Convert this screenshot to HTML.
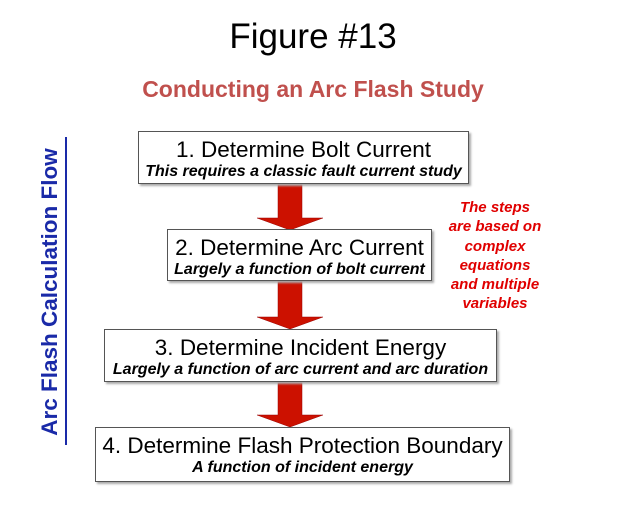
<!DOCTYPE html>
<html><head><style>
body{margin:0;width:626px;height:526px;background:#fff;position:relative;font-family:"Liberation Sans",Arial,sans-serif;overflow:hidden}
.a{position:absolute}
.box{position:absolute;border:1px solid #555;box-shadow:2px 2px 2px #aaa;background:#fff;text-align:center;box-sizing:border-box;white-space:nowrap}
.t{font-size:22.5px;line-height:24px;margin-top:6px;color:#000}
.s{font-size:16px;font-weight:bold;font-style:italic;line-height:20px}
</style></head><body>
<div class="a" style="left:0;width:626px;top:17px;text-align:center;font-size:35px">Figure #13</div>
<div class="a" style="left:0;width:626px;top:76px;text-align:center;font-size:23px;font-weight:bold;color:#c0504d">Conducting an Arc Flash Study</div>
<div class="a" style="left:50px;top:292px;transform:translate(-50%,-50%) rotate(-90deg);white-space:nowrap;font-size:22.5px;font-weight:bold;color:#1a2aa8">Arc Flash Calculation Flow</div>
<div class="a" style="left:65px;top:137px;width:2px;height:308px;background:#1a2aa8"></div>
<svg class="a" style="left:0;top:0" width="626" height="526">
<g fill="#cc1100" stroke="#990000" stroke-width="0.5">
<polygon points="278,184 302,184 302,218 323,218 290,230 257,218 278,218"/>
<polygon points="278,281 302,281 302,317 323,317 290,329 257,317 278,317"/>
<polygon points="278,382 302,382 302,415 323,415 290,427 257,415 278,415"/>
</g></svg>
<div class="box" style="left:138px;top:131px;width:331px;height:53px"><div class="t">1. Determine Bolt Current</div><div class="s">This requires a classic fault current study</div></div>
<div class="box" style="left:167px;top:229px;width:265px;height:52px"><div class="t">2. Determine Arc Current</div><div class="s">Largely a function of bolt current</div></div>
<div class="box" style="left:104px;top:329px;width:393px;height:53px"><div class="t">3. Determine Incident Energy</div><div class="s">Largely a function of arc current and arc duration</div></div>
<div class="box" style="left:95px;top:427px;width:415px;height:55px"><div class="t">4. Determine Flash Protection Boundary</div><div class="s">A function of incident energy</div></div>
<div class="a" style="left:430px;width:130px;top:198px;text-align:center;color:#e00000;font-size:15px;font-weight:bold;font-style:italic;line-height:19.3px">The steps<br>are based on<br>complex<br>equations<br>and multiple<br>variables</div>
</body></html>
